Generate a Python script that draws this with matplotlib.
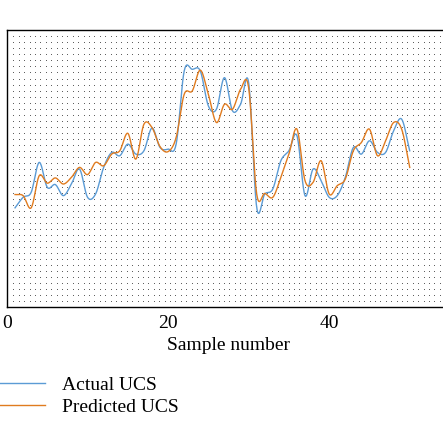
import numpy as np
import matplotlib
matplotlib.use("Agg")
import matplotlib.pyplot as plt

samples = list(range(1, 51))
actual = [35.8,39.6,41.4,52.2,43.2,44.2,40.2,44.4,49.8,39.6,40.8,50.4,55.8,54.6,58.8,55.2,56.4,64.6,57.6,57.0,
          58.8,85.2,85.8,85.2,72.6,71.4,82.8,70.8,73.2,81.0,36.0,40.8,42.6,52.8,56.4,61.8,40.2,49.8,45.6,39.6,
          40.2,46.8,57.6,55.2,60.0,55.8,55.8,63.6,67.8,56.4]
predicted = [40.6,40.2,35.8,47.4,44.7,46.6,44.4,46.8,50.4,47.8,52.2,51.0,55.2,56.4,62.7,53.4,66.0,64.8,57.9,56.1,
             61.2,76.8,78.0,85.5,76.8,66.6,73.2,71.4,78.6,79.2,40.8,41.0,39.6,46.8,55.2,64.2,45.6,45.0,52.8,40.8,
             43.8,46.2,56.4,59.4,64.2,54.6,60.0,66.6,64.2,50.4]

def smooth(x, y, n=20):
    x = np.asarray(x, float); y = np.asarray(y, float)
    xp = np.concatenate([[2*x[0]-x[1]], x, [2*x[-1]-x[-2]]])
    yp = np.concatenate([[2*y[0]-y[1]], y, [2*y[-1]-y[-2]]])
    xs, ys = [], []
    t = np.linspace(0, 1, n, endpoint=False)
    for i in range(1, len(xp)-2):
        p0, p1, p2, p3 = yp[i-1], yp[i], yp[i+1], yp[i+2]
        yy = 0.5*((2*p1) + (-p0+p2)*t + (2*p0-5*p1+4*p2-p3)*t**2 + (-p0+3*p1-3*p2+p3)*t**3)
        xs.append(xp[i] + (xp[i+1]-xp[i])*t); ys.append(yy)
    xs.append([x[-1]]); ys.append([y[-1]])
    return np.concatenate(xs), np.concatenate(ys)

fig = plt.figure(figsize=(4.43, 4.43), dpi=100)
ax = fig.add_axes([7/443, 1-307/443, 443/443, 277/443])
ax.set_xlim(0, 55)
ax.set_ylim(0, 100)

gx, gy = np.meshgrid(np.arange(0.8, 55, 0.67), np.arange(2.2, 99, 2.17))
ax.scatter(gx.ravel(), gy.ravel(), s=0.35, color='#333333', linewidths=0, zorder=0)

xa, ya = smooth(samples, actual)
xb, yb = smooth(samples, predicted)
la, = ax.plot(xa, ya, color='#5b9bd5', lw=1.0, label='Actual UCS')
lb, = ax.plot(xb, yb, color='#e07b1f', lw=1.0, label='Predicted UCS')

ax.set_xticks([0, 20, 40])
ax.set_yticks([])
ax.tick_params(axis='x', length=0, labelsize=14, pad=6)
for lbl in ax.get_xticklabels():
    lbl.set_family('Liberation Serif')
ax.set_xlabel('Sample number', family='Liberation Serif', fontsize=14, labelpad=3)
for s in ax.spines.values():
    s.set_color('black'); s.set_linewidth(1.0)

fig.legend(handles=[la, lb], loc='upper left', bbox_to_anchor=(0.0, 1 - 376/443), frameon=False,
           prop={'family': 'Liberation Serif', 'size': 14}, handlelength=2.3, handletextpad=0.9,
           labelspacing=0.25, borderaxespad=0, borderpad=0)
fig.savefig('out.png', dpi=100)
